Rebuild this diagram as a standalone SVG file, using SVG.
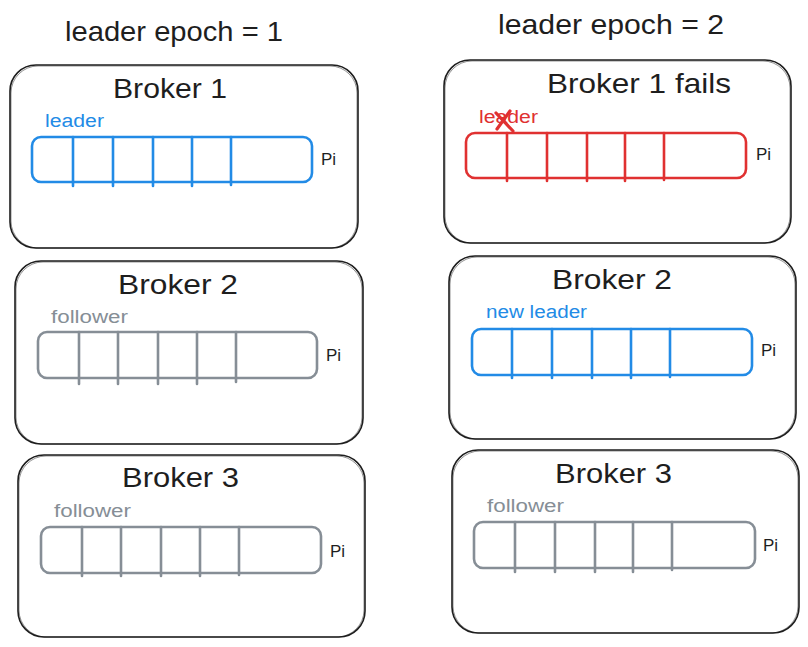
<svg xmlns="http://www.w3.org/2000/svg" width="808" height="647" viewBox="0 0 808 647">
<style>
text{font-family:"Liberation Sans",Arial,sans-serif}
.hdr{font-size:28px;fill:#1e1e1e}
.ttl{font-size:28px;fill:#1e1e1e}
.lbl{font-size:18px}
.pi{font-size:17px;fill:#1e1e1e}
.box{fill:#fff;stroke:#1e1e1e;stroke-width:1.6}
.box2{fill:none;stroke:#1e1e1e;stroke-width:0.8;opacity:0.6}
.part{fill:none;stroke-width:2.6;stroke-linecap:round}
.blue{stroke:#228be6}
.red{stroke:#e03131}
.gray{stroke:#868e96}
</style>
<rect width="808" height="647" fill="#fff"/>
<text class="hdr" x="65" y="41" textLength="218" lengthAdjust="spacingAndGlyphs">leader epoch = 1</text>
<text class="hdr" x="498" y="34" textLength="226" lengthAdjust="spacingAndGlyphs">leader epoch = 2</text>

<g id="broker1-left">
<rect class="box" x="10" y="65" width="348" height="183" rx="26"/>
<rect class="box2" x="11" y="66" width="346" height="182" rx="27"/>
<text class="ttl" x="113" y="98" textLength="114" lengthAdjust="spacingAndGlyphs">Broker 1</text>
<text class="lbl" x="45" y="127" fill="#228be6" textLength="59" lengthAdjust="spacingAndGlyphs">leader</text>
<rect class="part blue" x="32" y="137" width="280" height="45" rx="9"/>
<path class="part blue" d="M73 137V186M113 137V186M153 137V186M192 137V186M231 137V185"/>
<text class="pi" x="321" y="165">Pi</text>
</g>

<g id="broker2-left">
<rect class="box" x="15" y="261" width="348" height="183" rx="26"/>
<rect class="box2" x="16" y="262" width="346" height="182" rx="27"/>
<text class="ttl" x="118" y="294" textLength="120" lengthAdjust="spacingAndGlyphs">Broker 2</text>
<text class="lbl" x="51" y="323" fill="#868e96" textLength="77" lengthAdjust="spacingAndGlyphs">follower</text>
<rect class="part gray" x="38" y="332" width="279" height="46" rx="9"/>
<path class="part gray" d="M79 332V384M118 332V384M158 332V384M197 332V384M236 332V382"/>
<text class="pi" x="326" y="361">Pi</text>
</g>

<g id="broker3-left">
<rect class="box" x="18" y="455" width="347" height="182" rx="26"/>
<rect class="box2" x="19" y="456" width="345" height="181" rx="27"/>
<text class="ttl" x="122" y="487" textLength="117" lengthAdjust="spacingAndGlyphs">Broker 3</text>
<text class="lbl" x="54" y="517" fill="#868e96" textLength="77" lengthAdjust="spacingAndGlyphs">follower</text>
<rect class="part gray" x="41" y="527" width="280" height="46" rx="9"/>
<path class="part gray" d="M82 527V576M121 527V576M161 527V576M200 527V576M239 527V575"/>
<text class="pi" x="330" y="557">Pi</text>
</g>

<g id="broker1-right">
<rect class="box" x="444" y="60" width="347" height="183" rx="26"/>
<rect class="box2" x="445" y="61" width="345" height="182" rx="27"/>
<text class="ttl" x="547" y="93" fill="#e03131" textLength="184" lengthAdjust="spacingAndGlyphs">Broker 1 fails</text>
<text class="lbl" x="479" y="123" fill="#e03131" textLength="59" lengthAdjust="spacingAndGlyphs">leader</text>
<path d="M496 113L513 131M510 111L497 129" stroke="#e03131" stroke-width="3.2" stroke-linecap="round" fill="none"/>
<rect class="part red" x="466" y="133" width="280" height="45" rx="9"/>
<path class="part red" d="M507 133V181M547 133V181M587 133V181M625 133V181M664 133V180"/>
<text class="pi" x="756" y="160">Pi</text>
</g>

<g id="broker2-right">
<rect class="box" x="449" y="256" width="347" height="183" rx="26"/>
<rect class="box2" x="450" y="257" width="345" height="182" rx="27"/>
<text class="ttl" x="552" y="289" textLength="120" lengthAdjust="spacingAndGlyphs">Broker 2</text>
<text class="lbl" x="486" y="318" fill="#228be6" textLength="101" lengthAdjust="spacingAndGlyphs">new leader</text>
<rect class="part blue" x="472" y="329" width="280" height="46" rx="9"/>
<path class="part blue" d="M512 329V378M552 329V378M592 329V378M631 329V378M670 329V377"/>
<text class="pi" x="761" y="356">Pi</text>
</g>

<g id="broker3-right">
<rect class="box" x="452" y="450" width="347" height="183" rx="26"/>
<rect class="box2" x="453" y="451" width="345" height="182" rx="27"/>
<text class="ttl" x="555" y="483" textLength="117" lengthAdjust="spacingAndGlyphs">Broker 3</text>
<text class="lbl" x="487" y="512" fill="#868e96" textLength="77" lengthAdjust="spacingAndGlyphs">follower</text>
<rect class="part gray" x="474" y="522" width="281" height="46" rx="9"/>
<path class="part gray" d="M515 522V572M555 522V572M595 522V572M633 522V572M672 522V570"/>
<text class="pi" x="763" y="551">Pi</text>
</g>
</svg>
